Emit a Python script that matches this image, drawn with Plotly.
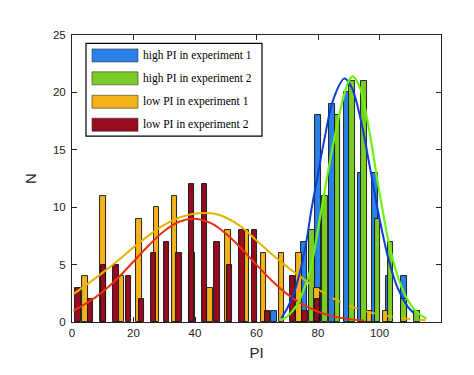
import plotly.graph_objects as go

# ---------------- data ----------------
blue_x = [65.8, 75.4, 80.0, 84.6, 89.3, 93.9, 98.4, 103.2, 108.0]
blue_n = [1, 7, 18, 19, 20, 13, 13, 4, 4]

green_x = [73.7, 78.1, 82.2, 86.4, 91.0, 95.0, 99.3, 103.6, 108.0, 112.2]
green_n = [1, 8, 11, 18, 21, 21, 9, 7, 2, 1]

orange_x = [4.3, 10.1, 15.9, 21.7, 27.5, 33.3, 39.1, 44.9, 50.7, 56.5, 62.3, 68.1, 73.9, 79.7, 96.7, 102.0]
orange_n = [4, 11, 4, 9, 10, 11, 6, 3, 8, 8, 6, 6, 6, 3, 1, 1]

red_x = [2.0, 6.1, 10.2, 14.3, 18.4, 22.5, 26.6, 30.7, 34.8, 38.9, 43.0, 47.1, 51.2, 55.3, 59.4, 63.5, 71.7, 75.8, 79.9]
red_n = [3, 2, 5, 5, 4, 2, 6, 7, 6, 12, 12, 7, 5, 8, 8, 1, 4, 1, 2]

blue_cx = [68, 70, 72, 74, 76, 78, 80, 82, 85, 88.6, 91, 94, 97, 100, 103, 106, 109, 111]
blue_cy = [0.3, 1.2, 2.4, 4.2, 6.7, 10.0, 12.9, 15.8, 19.4, 21.2, 20.4, 17.5, 13.3, 9.0, 5.4, 2.9, 1.4, 0.8]

green_cx = [67.5, 70, 73, 75.5, 77.6, 79.5, 81.5, 84.8, 88, 90, 91.3, 93.5, 95.6, 97.8, 99.4, 101.3, 103.2, 106, 108.6, 112, 115.3]
green_cy = [0.15, 0.5, 1.4, 2.9, 4.6, 7.3, 10.4, 15.3, 19.3, 21.0, 21.4, 20.5, 18.2, 14.9, 12.2, 9.3, 6.7, 3.9, 2.2, 0.9, 0.3]

orange_cx = [0.5, 5, 10, 15, 20, 25, 30, 35, 40, 43, 46, 50, 55, 60, 65, 70, 75, 80, 85, 90, 95, 100, 105, 110, 115]
orange_cy = [2.45, 3.3, 4.3, 5.35, 6.5, 7.55, 8.45, 9.1, 9.45, 9.5, 9.45, 9.1, 8.3, 7.1, 5.9, 4.8, 3.8, 2.85, 2.05, 1.45, 0.98, 0.65, 0.42, 0.26, 0.15]

red_cx = [0.5, 5, 10, 15, 20, 25, 30, 35, 39.5, 45, 50, 55, 60, 65, 70, 75, 80, 85, 90, 95]
red_cy = [1.0, 1.68, 2.64, 3.86, 5.27, 6.69, 7.93, 8.75, 9.0, 8.63, 7.71, 6.42, 4.98, 3.6, 2.43, 1.53, 0.89, 0.49, 0.25, 0.12]

series_names = ["high PI in experiment 1", "high PI in experiment 2",
                "low PI in experiment 1", "low PI in experiment 2"]

x_ticks = [0, 20, 40, 60, 80, 100]
y_ticks = [0, 5, 10, 15, 20, 25]

# ---------------- style ----------------
BLUE, GREEN, ORANGE, RED = "#2b80e8", "#7ccc26", "#f6b21a", "#970b1f"
BLUE_L, GREEN_L, ORANGE_L, RED_L = "#0b3fd4", "#6cf214", "#e6b400", "#e8300a"

fig = go.Figure()

def add_bars(xs, ns, color, name, width):
    fig.add_trace(go.Bar(x=xs, y=ns, width=[width] * len(xs), name=name,
                         marker=dict(color=color, line=dict(color="#111111", width=0.9)),
                         showlegend=False))

add_bars(blue_x, blue_n, BLUE, series_names[0], 1.9)
add_bars(green_x, green_n, GREEN, series_names[1], 1.8)
add_bars(orange_x, orange_n, ORANGE, series_names[2], 1.8)
add_bars(red_x, red_n, RED, series_names[3], 1.75)

# orange curve: visible fully on the left, broken behind the high-PI bars on the right
split = [i for i, v in enumerate(orange_cx) if v >= 75][0]
fig.add_trace(go.Scatter(x=orange_cx[:split + 1], y=orange_cy[:split + 1], mode="lines",
                         line=dict(color=ORANGE_L, width=2, shape="spline"), showlegend=False))
fig.add_trace(go.Scatter(x=orange_cx[split:], y=orange_cy[split:], mode="lines",
                         line=dict(color=ORANGE_L, width=2, shape="spline", dash="dash"),
                         showlegend=False))
fig.add_trace(go.Scatter(x=red_cx, y=red_cy, mode="lines",
                         line=dict(color=RED_L, width=2, shape="spline"), showlegend=False))
fig.add_trace(go.Scatter(x=blue_cx, y=blue_cy, mode="lines",
                         line=dict(color=BLUE_L, width=2, shape="spline"), showlegend=False))
fig.add_trace(go.Scatter(x=green_cx, y=green_cy, mode="lines",
                         line=dict(color=GREEN_L, width=2.2, shape="spline"), showlegend=False))

# ---------------- layout ----------------
# the page body adds an 8px offset, so margins are shifted to place the plot area
W, H = 474, 375
OFF = 8
PL, PT, PW, PH = 72, 34.5, 369, 288          # plot area in window pixels
ML = PL - OFF
MT = PT - OFF
MR = W - ML - PW
MB = H - MT - PH

def px(xp):
    return (xp - PL) / PW

def py(yp):
    return (PT + PH - yp) / PH

shapes = [dict(type="rect", xref="paper", yref="paper",
               x0=px(86), x1=px(262), y0=py(136), y1=py(43),
               line=dict(color="black", width=1.2), fillcolor="white", layer="above")]
annotations = []
row_centers = [55, 78, 101.5, 124.5]
colors = [BLUE, GREEN, ORANGE, RED]
for yc, col, name in zip(row_centers, colors, series_names):
    shapes.append(dict(type="rect", xref="paper", yref="paper",
                       x0=px(92), x1=px(138), y0=py(yc + 6.5), y1=py(yc - 6.5),
                       line=dict(color="#333333", width=0.6), fillcolor=col, layer="above"))
    annotations.append(dict(xref="paper", yref="paper", x=px(141), y=py(yc),
                            xanchor="left", yanchor="middle", text=name, showarrow=False,
                            font=dict(family="Liberation Serif, Times New Roman, serif",
                                      size=11.5, color="black")))

axis_common = dict(showline=True, linecolor="#222222", linewidth=1, mirror="ticks",
                   ticks="inside", ticklen=5, tickcolor="#222222", showgrid=False,
                   zeroline=False,
                   tickfont=dict(family="Liberation Sans, Arial, sans-serif", size=11.5,
                                 color="#222222"))

fig.update_layout(
    width=W, height=H,
    margin=dict(l=ML, r=MR, t=MT, b=MB),
    paper_bgcolor="white", plot_bgcolor="white",
    barmode="overlay", bargap=0,
    shapes=shapes, annotations=annotations,
    showlegend=False,
    xaxis=dict(range=[0, 120], tickvals=x_ticks, **axis_common,
               title=dict(text="PI", standoff=9,
                          font=dict(family="Liberation Sans, Arial, sans-serif", size=15,
                                    color="#222222"))),
    yaxis=dict(range=[0, 25], tickvals=y_ticks, ticklabelstandoff=3, **axis_common,
               title=dict(text="N", standoff=12,
                          font=dict(family="Liberation Sans, Arial, sans-serif", size=15,
                                    color="#222222"))),
)

fig.write_html("out.html")
